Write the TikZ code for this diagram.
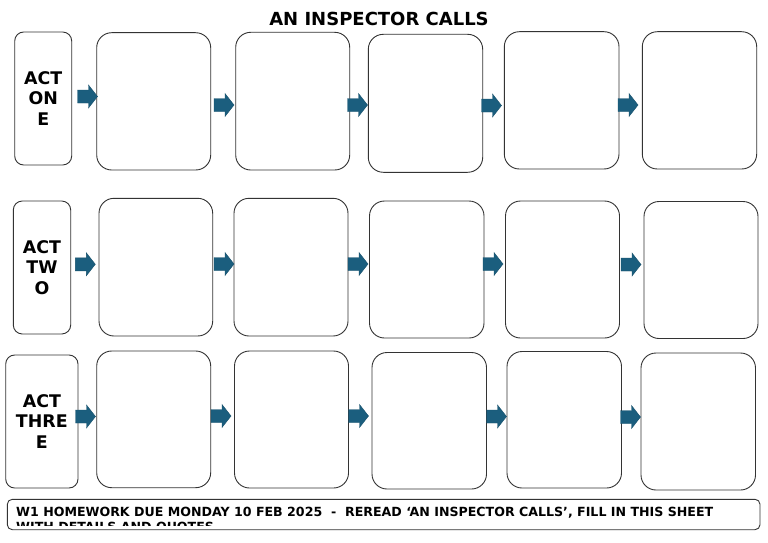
\documentclass[tikz,border=0pt]{standalone}
\usepackage{fontspec}
\setmainfont{DejaVu Sans}
\definecolor{arrowfill}{HTML}{1B5E7E}
\definecolor{arrowline}{HTML}{17506B}
\definecolor{edge}{HTML}{333333}
\tikzset{
  bigbox/.style={draw=edge, line width=0.9pt, rounded corners=15pt, fill=white, inner sep=0pt},
  actbox/.style={draw=edge, line width=0.9pt, rounded corners=9pt, fill=white, inner sep=0pt,
    font=\fontsize{17.4}{20.7}\selectfont\bfseries, align=center},
  notebox/.style={draw=edge, line width=0.9pt, rounded corners=5pt, inner sep=0pt},
  notefont/.style={anchor=base west, inner sep=0pt, font=\fontsize{12.6}{15}\selectfont\bfseries},
  blockarrow/.pic={\filldraw[fill=arrowfill, draw=arrowline, line width=0.4pt]
    (-10,-6.5) -- (1,-6.5) -- (1,-11.5) -- (10,0) -- (1,11.5) -- (1,6.5) -- (-10,6.5) -- cycle;}
}
\newcommand{\cellbox}[7]{%
  \node[#1, minimum width={(#4-#2)*1pt}, minimum height={(#5-#3)*1pt}]
    (#6) at ({(#2+#4)/2},{(#3+#5)/2}) {#7};}
\begin{document}
\begin{tikzpicture}[x=1pt,y=-1pt]
\useasboundingbox[fill=white] (0,0) rectangle (768,543);
% title
\node[anchor=base, font=\fontsize{18}{20}\selectfont\bfseries] (title) at (379,25.7) {AN INSPECTOR CALLS};
% row 1
\cellbox{actbox}{14.7}{32}{71.7}{165}{act1}{ACT\\ON\\E}
\cellbox{bigbox}{96.7}{32.7}{210.7}{170}{r1c1}{}
\cellbox{bigbox}{235.7}{32.3}{349.7}{170}{r1c2}{}
\cellbox{bigbox}{368.3}{34.3}{482.7}{172.3}{r1c3}{}
\cellbox{bigbox}{504.3}{31.7}{619}{169}{r1c4}{}
\cellbox{bigbox}{642.3}{31.7}{756.7}{169}{r1c5}{}
\pic at (87.5,96.5) {blockarrow};
\pic at (224,105) {blockarrow};
\pic at (357.5,105) {blockarrow};
\pic at (491.5,105.5) {blockarrow};
\pic at (628,105) {blockarrow};
% row 2
\cellbox{actbox}{13.3}{201}{70.7}{334}{act2}{ACT\\TW\\O}
\cellbox{bigbox}{99}{198.3}{212.7}{336}{r2c1}{}
\cellbox{bigbox}{234}{198.3}{348}{336}{r2c2}{}
\cellbox{bigbox}{369.5}{201}{484}{338}{r2c3}{}
\cellbox{bigbox}{505.5}{201}{619.5}{338}{r2c4}{}
\cellbox{bigbox}{644}{201.5}{758}{338.5}{r2c5}{}
\pic at (85.3,264.3) {blockarrow};
\pic at (224,264) {blockarrow};
\pic at (358,264) {blockarrow};
\pic at (493,264) {blockarrow};
\pic at (631,264.5) {blockarrow};
% row 3
\cellbox{actbox}{5.7}{355}{78}{488}{act3}{ACT\\THRE\\E}
\cellbox{bigbox}{96.7}{351}{210.7}{487.7}{r3c1}{}
\cellbox{bigbox}{234.5}{351}{348.5}{488}{r3c2}{}
\cellbox{bigbox}{372}{352.5}{486.5}{489}{r3c3}{}
\cellbox{bigbox}{507}{351.5}{621.5}{488}{r3c4}{}
\cellbox{bigbox}{641}{353}{755.5}{490}{r3c5}{}
\pic at (85.5,416.5) {blockarrow};
\pic at (221,416) {blockarrow};
\pic at (358.5,416) {blockarrow};
\pic at (496.5,416.5) {blockarrow};
\pic at (630.5,417) {blockarrow};
% note
\cellbox{notebox}{7.3}{499.3}{760}{529.7}{note}{}
\begin{scope}
\clip (8,500) rectangle (759,525.5);
\node[notefont] (noteline1) at (16,516)
  {W1 HOMEWORK DUE MONDAY 10 FEB 2025\ \ -\ \ REREAD ‘AN INSPECTOR CALLS’, FILL IN THIS SHEET};
\node[notefont] (noteline2) at (16,531) {WITH DETAILS AND QUOTES};
\end{scope}
\end{tikzpicture}
\end{document}
